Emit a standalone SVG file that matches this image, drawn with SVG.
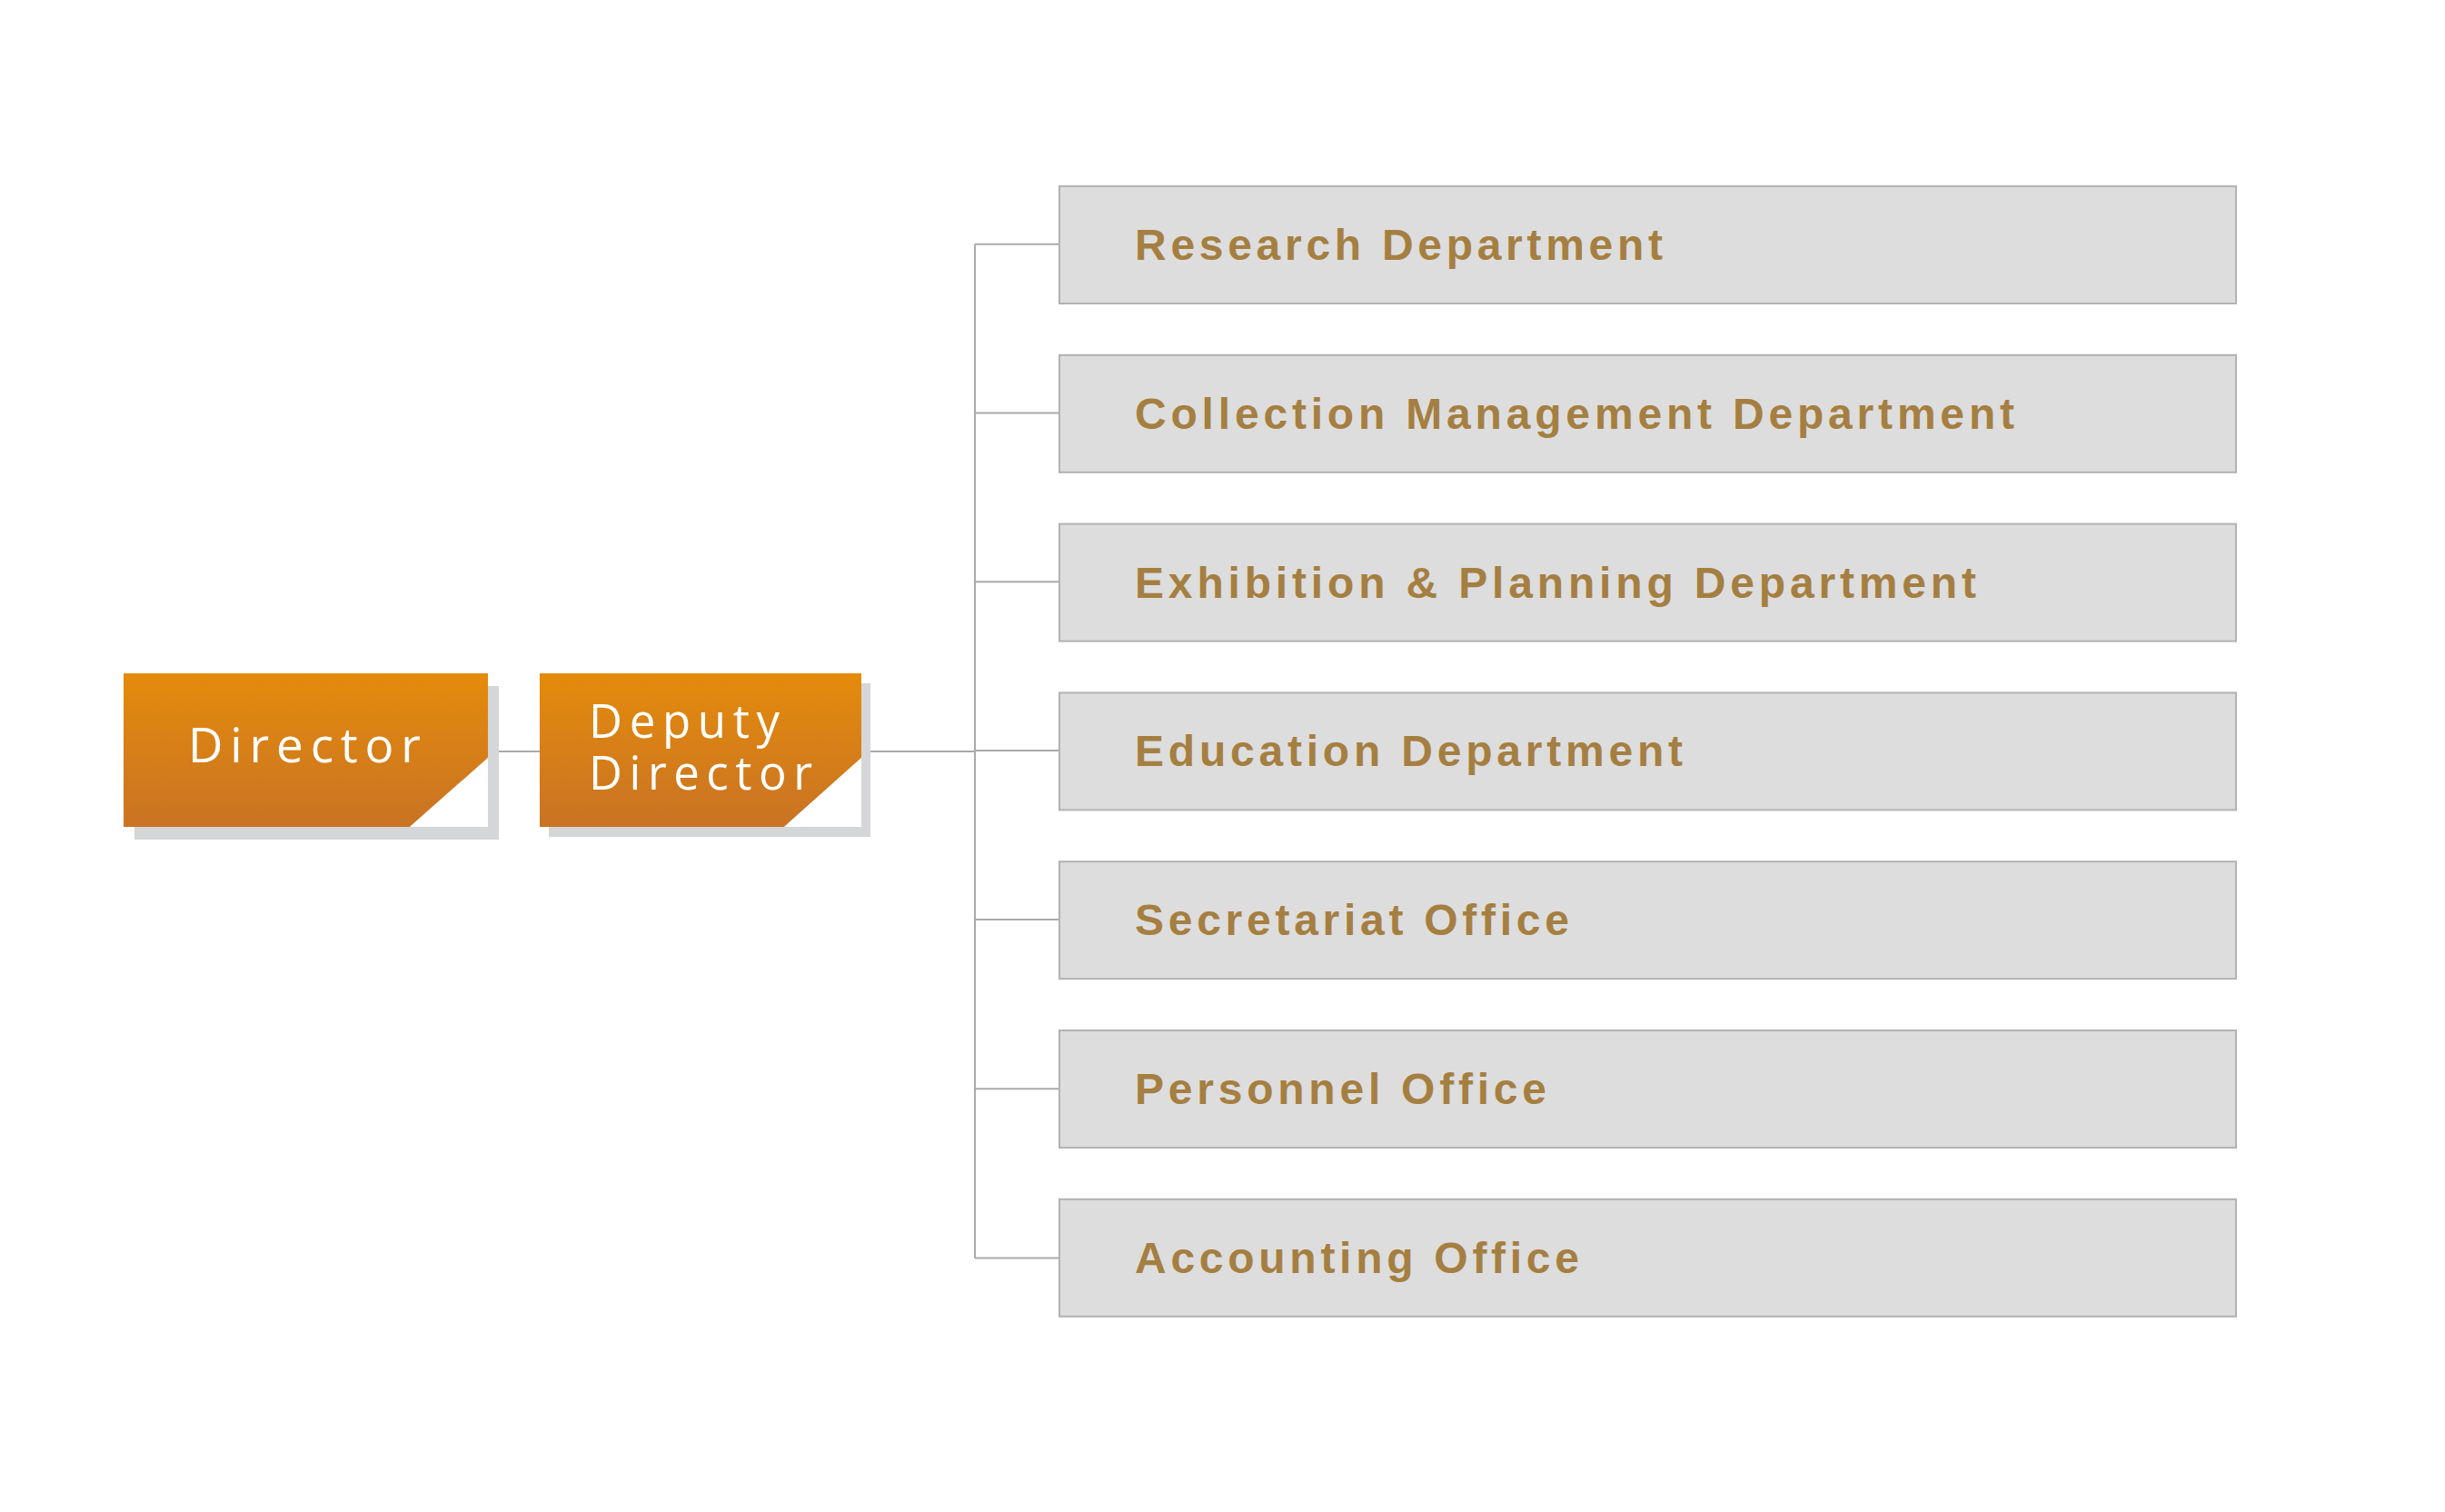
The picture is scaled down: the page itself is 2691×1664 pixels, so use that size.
<svg xmlns="http://www.w3.org/2000/svg" width="2691" height="1664" viewBox="0 0 2691 1664">
<defs>
<linearGradient id="org" x1="0" y1="0" x2="0" y2="1">
<stop offset="0" stop-color="#e48b0b"/>
<stop offset="1" stop-color="#c97324"/>
</linearGradient>
<style>
.conn{stroke:#a9a9a9;stroke-width:2;fill:none}
.shadow{fill:#d4d6d7}
.lead{fill:url(#org)}
.fold{fill:#ffffff}
.lt{font-family:"Open Sans","Noto Sans",sans-serif;font-size:53px;fill:#ffffff}
.box{fill:#dddddd;stroke:#b2b2b2;stroke-width:2}
.dt{font-family:"Liberation Sans",Arial,sans-serif;font-weight:bold;font-size:48px;fill:#a57f41}
</style>
</defs>
<rect width="2691" height="1664" fill="#ffffff"/>
<g id="connectors">
<line class="conn" x1="537" y1="827" x2="594" y2="827"/>
<line class="conn" x1="948" y1="827" x2="1073" y2="827"/>
<line class="conn" x1="1073" y1="268.7" x2="1073" y2="1384.5"/>
<line class="conn" x1="1073" y1="268.7" x2="1166" y2="268.7"/>
<line class="conn" x1="1073" y1="454.5" x2="1166" y2="454.5"/>
<line class="conn" x1="1073" y1="640.3" x2="1166" y2="640.3"/>
<line class="conn" x1="1073" y1="826.1" x2="1166" y2="826.1"/>
<line class="conn" x1="1073" y1="1012" x2="1166" y2="1012"/>
<line class="conn" x1="1073" y1="1198.3" x2="1166" y2="1198.3"/>
<line class="conn" x1="1073" y1="1384.5" x2="1166" y2="1384.5"/>
</g>
<g id="director">
<rect class="shadow" x="148" y="755" width="401" height="169"/>
<polygon class="lead" points="136,741 537,741 537,834 451,910 136,910"/>
<polygon class="fold" points="537,834 537,910 451,910"/>
<text class="lt" x="207" y="839" textLength="256" lengthAdjust="spacing">Director</text>
</g>
<g id="deputy-director">
<rect class="shadow" x="604" y="752" width="354" height="169"/>
<polygon class="lead" points="594,741 948,741 948,834 863,910 594,910"/>
<polygon class="fold" points="948,834 948,910 863,910"/>
<text class="lt" style="font-size:51px" x="648" y="812" textLength="210" lengthAdjust="spacing">Deputy</text>
<text class="lt" style="font-size:51px" x="648" y="869" textLength="246" lengthAdjust="spacing">Director</text>
</g>
<g id="research">
<rect class="box" x="1166" y="205" width="1295" height="129"/>
<text class="dt" x="1249" y="286" textLength="581" lengthAdjust="spacing">Research Department</text>
</g>
<g id="collection">
<rect class="box" x="1166" y="390.8" width="1295" height="129"/>
<text class="dt" x="1249" y="471.8" textLength="968" lengthAdjust="spacing">Collection Management Department</text>
</g>
<g id="exhibition">
<rect class="box" x="1166" y="576.6" width="1295" height="129"/>
<text class="dt" x="1249" y="657.6" textLength="926" lengthAdjust="spacing">Exhibition &amp; Planning Department</text>
</g>
<g id="education">
<rect class="box" x="1166" y="762.4" width="1295" height="129"/>
<text class="dt" x="1249" y="843.4" textLength="603" lengthAdjust="spacing">Education Department</text>
</g>
<g id="secretariat">
<rect class="box" x="1166" y="948.2" width="1295" height="129"/>
<text class="dt" x="1249" y="1029.2" textLength="478" lengthAdjust="spacing">Secretariat Office</text>
</g>
<g id="personnel">
<rect class="box" x="1166" y="1134" width="1295" height="129"/>
<text class="dt" x="1249" y="1215" textLength="453" lengthAdjust="spacing">Personnel Office</text>
</g>
<g id="accounting">
<rect class="box" x="1166" y="1319.8" width="1295" height="129"/>
<text class="dt" x="1249" y="1400.8" textLength="489" lengthAdjust="spacing">Accounting Office</text>
</g>
</svg>
